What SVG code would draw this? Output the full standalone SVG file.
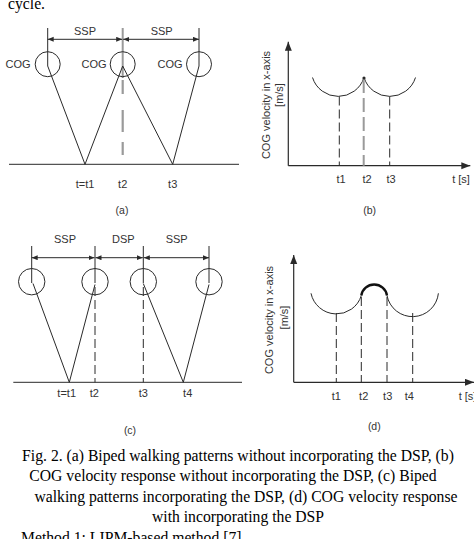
<svg xmlns="http://www.w3.org/2000/svg" width="474" height="539" viewBox="0 0 474 539">
<style>
.ln{stroke:#2a2a2a;stroke-width:1;fill:none}
.cir{stroke:#2a2a2a;stroke-width:1;fill:none}
.dash{stroke:#2a2a2a;stroke-width:1;stroke-dasharray:9 4;fill:none}
.gdash{stroke:#9a9a9a;stroke-width:2;stroke-dasharray:14 5;fill:none}
.dim{stroke:#2a2a2a;stroke-width:1;fill:none;marker-start:url(#ah);marker-end:url(#ah)}
.axx{stroke:#2a2a2a;stroke-width:1.2;fill:none;marker-end:url(#ax)}
.lbl{font-family:"Liberation Sans",Arial,sans-serif;font-size:11px;fill:#333}
.sub{font-family:"Liberation Sans",Arial,sans-serif;font-size:10.5px;fill:#333;text-anchor:middle}
.mid{text-anchor:middle}
.cap{font-family:"Liberation Serif","Times New Roman",serif;font-size:15.7px;fill:#000}
</style>
<defs>
<marker id="ah" markerUnits="userSpaceOnUse" markerWidth="7" markerHeight="6" refX="6" refY="2.5" orient="auto-start-reverse"><path d="M0,0 L6,2.5 L0,5 z" fill="#2a2a2a"/></marker>
<marker id="ax" markerUnits="userSpaceOnUse" markerWidth="10" markerHeight="8" refX="9" refY="3.5" orient="auto"><path d="M0,0 L9,3.5 L0,7 z" fill="#2a2a2a"/></marker>
</defs>

<text class="cap" x="8" y="9">cycle.</text>

<!-- Panel (a) -->
<g id="panel-a">
  <g id="a-connectors">
    <line class="ln" x1="9" y1="164.3" x2="239" y2="164.3"/>
    <line class="ln" x1="47.7" y1="28" x2="47.7" y2="66"/>
    <line class="ln" x1="199" y1="28" x2="199" y2="66"/>
    <line x1="122.7" y1="28" x2="122.7" y2="78" stroke="#9a9a9a" stroke-width="2"/>
    <line x1="122.7" y1="80" x2="122.7" y2="94" stroke="#9a9a9a" stroke-width="2.2"/>
    <line x1="122.7" y1="110" x2="122.7" y2="132" stroke="#9a9a9a" stroke-width="2.2"/>
    <line x1="122.7" y1="142" x2="122.7" y2="155" stroke="#9a9a9a" stroke-width="2.2"/>
    <line class="dim" x1="47.7" y1="39.3" x2="122.2" y2="39.3"/>
    <line class="dim" x1="123.2" y1="39.3" x2="199" y2="39.3"/>
    <polyline class="ln" points="47.7,66 85,164.3 122.7,66 172.7,164.3 199,66"/>
  </g>
  <g id="a-cog1"><circle class="cir" cx="47.7" cy="64.2" r="12.5"/><text class="lbl mid" x="18" y="68">COG</text></g>
  <g id="a-cog2"><circle class="cir" cx="122.7" cy="64.2" r="12.5"/><text class="lbl mid" x="94" y="68">COG</text></g>
  <g id="a-cog3"><circle class="cir" cx="199" cy="64.2" r="12.5"/><text class="lbl mid" x="170" y="68">COG</text></g>
  <text class="lbl mid" x="85" y="35">SSP</text>
  <text class="lbl mid" x="161.7" y="35">SSP</text>
  <text class="lbl mid" x="85" y="188">t=t1</text>
  <text class="lbl mid" x="122.7" y="188">t2</text>
  <text class="lbl mid" x="172.7" y="188">t3</text>
  <text class="sub" x="122" y="214">(a)</text>
</g>

<!-- Panel (b) -->
<g id="panel-b">
  <g id="b-connectors">
    <line class="axx" x1="288.3" y1="165.7" x2="288.3" y2="41.7"/>
    <line class="axx" x1="288.3" y1="165.7" x2="470.3" y2="165.7"/>
    <path class="ln" d="M312.5,77.5 A27,27 0 0 0 364,77.5 A27,27 0 0 0 415.5,77.5"/>
    <line class="dash" x1="339.3" y1="96.5" x2="339.3" y2="165.7"/>
    <line class="gdash" x1="363.7" y1="79" x2="363.7" y2="165.7"/>
    <line class="dash" x1="389.7" y1="96.5" x2="389.7" y2="165.7"/>
    <circle cx="364" cy="78" r="1.6" fill="#2a2a2a"/>
  </g>
  <text class="lbl mid" transform="translate(270,105) rotate(-90)">COG velocity in x-axis</text>
  <text class="lbl mid" transform="translate(282.5,95) rotate(-90)">[m/s]</text>
  <text class="lbl mid" x="341" y="183">t1</text>
  <text class="lbl mid" x="367" y="183">t2</text>
  <text class="lbl mid" x="391" y="183">t3</text>
  <text class="lbl mid" x="461" y="183">t [s]</text>
  <text class="sub" x="369.7" y="213.5">(b)</text>
</g>

<!-- Panel (c) -->
<g id="panel-c">
  <g id="c-connectors">
    <line class="ln" x1="13.3" y1="382.3" x2="242" y2="382.3"/>
    <line class="ln" x1="31.7" y1="246" x2="31.7" y2="283"/>
    <line class="ln" x1="95" y1="246" x2="95" y2="283"/>
    <line class="ln" x1="143.3" y1="246" x2="143.3" y2="283"/>
    <line class="ln" x1="209" y1="246" x2="209" y2="283"/>
    <line class="dim" x1="31.7" y1="257.7" x2="94.5" y2="257.7"/>
    <line class="dim" x1="95.5" y1="257.7" x2="142.8" y2="257.7"/>
    <line class="dim" x1="143.8" y1="257.7" x2="209" y2="257.7"/>
    <polyline class="ln" points="33,283.5 69.3,382.3 95,284.5"/>
    <polyline class="ln" points="143.3,283.5 183.3,382.3 209,284.5"/>
    <line class="dash" x1="95" y1="287" x2="95" y2="382.3"/>
    <line class="dash" x1="143.3" y1="287" x2="143.3" y2="382.3"/>
  </g>
  <g id="c-cog1"><circle class="cir" cx="31.7" cy="281.7" r="13.2"/></g>
  <g id="c-cog2"><circle class="cir" cx="95" cy="281.7" r="13.2"/></g>
  <g id="c-cog3"><circle class="cir" cx="143.3" cy="281.7" r="13.2"/></g>
  <g id="c-cog4"><circle class="cir" cx="209" cy="281.7" r="13.2"/></g>
  <text class="lbl mid" x="65" y="243">SSP</text>
  <text class="lbl mid" x="123.3" y="243">DSP</text>
  <text class="lbl mid" x="176.7" y="243">SSP</text>
  <text class="lbl mid" x="66.7" y="397">t=t1</text>
  <text class="lbl mid" x="94.3" y="397">t2</text>
  <text class="lbl mid" x="143.3" y="397">t3</text>
  <text class="lbl mid" x="187.7" y="397">t4</text>
  <text class="sub" x="130" y="433.5">(c)</text>
</g>

<!-- Panel (d) -->
<g id="panel-d">
  <g id="d-connectors">
    <line class="axx" x1="293.7" y1="382.3" x2="293.7" y2="255"/>
    <line class="axx" x1="293.7" y1="382.3" x2="474" y2="382.3"/>
    <path class="ln" d="M311,293.3 A26,26 0 0 0 361.3,295.5"/>
    <path d="M361.3,295.5 A13,13 0 0 1 387,295.5" stroke="#111" stroke-width="2.4" fill="none"/>
    <path class="ln" d="M387,295.5 A26,26 0 0 0 438.4,293.3"/>
    <line class="dash" x1="336.3" y1="313" x2="336.3" y2="382.3"/>
    <line class="dash" x1="361.3" y1="297" x2="361.3" y2="382.3"/>
    <line class="dash" x1="387" y1="297" x2="387" y2="382.3"/>
    <line class="dash" x1="412.7" y1="313" x2="412.7" y2="382.3"/>
  </g>
  <text class="lbl mid" transform="translate(272.5,320) rotate(-90)">COG velocity in x-axis</text>
  <text class="lbl mid" transform="translate(287.5,317.5) rotate(-90)">[m/s]</text>
  <text class="lbl mid" x="336.3" y="399.5">t1</text>
  <text class="lbl mid" x="363.7" y="399.5">t2</text>
  <text class="lbl mid" x="387.7" y="399.5">t3</text>
  <text class="lbl mid" x="409.3" y="399.5">t4</text>
  <text class="lbl" x="458.7" y="399.5">t [s]</text>
  <text class="sub" x="374.3" y="430">(d)</text>
</g>

<!-- Caption -->
<g id="caption">
  <text class="cap mid" x="238" y="460.5">Fig. 2. (a) Biped walking patterns without incorporating the DSP, (b)</text>
  <text class="cap mid" x="233" y="481">COG velocity response without incorporating the DSP, (c) Biped</text>
  <text class="cap mid" x="246" y="501.5">walking patterns incorporating the DSP, (d) COG velocity response</text>
  <text class="cap mid" x="238" y="522">with incorporating the DSP</text>
  <text class="cap" x="21" y="543">Method 1: LIPM-based method [7]</text>
</g>
</svg>
